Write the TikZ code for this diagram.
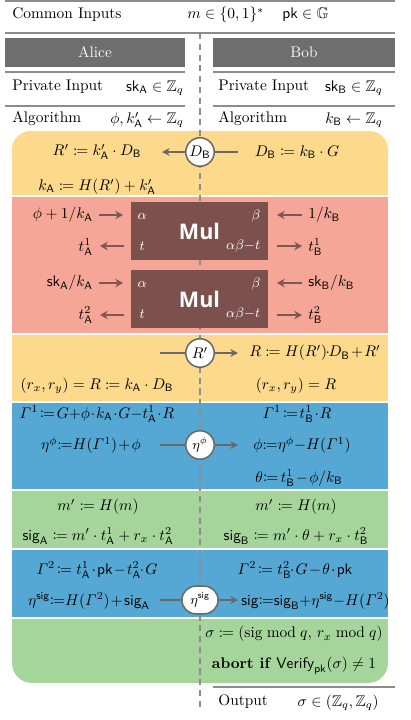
\documentclass[tikz,border=0pt]{standalone}
\usepackage{amsmath,amssymb,mathtools}
\usepackage{fontspec}
\newfontfamily\mulfont{Open Sans}
\usetikzlibrary{arrows.meta,shapes.misc}
\definecolor{yel}{RGB}{253,217,140}
\definecolor{salm}{RGB}{246,166,150}
\definecolor{blu}{RGB}{85,168,212}
\definecolor{grn}{RGB}{166,213,155}
\definecolor{mulc}{RGB}{124,80,76}
\definecolor{hdr}{RGB}{110,110,110}
\definecolor{arr}{RGB}{105,105,105}
\definecolor{arrm}{RGB}{125,88,84}
\definecolor{rule}{RGB}{140,140,140}
\newcommand{\myA}{\mathsf{A}}
\newcommand{\myB}{\mathsf{B}}
\newcommand{\mysig}{\mathsf{sig}}
\newcommand{\mypk}{\mathsf{pk}}
\newcommand{\mysk}{\mathsf{sk}}
\begin{document}
\begin{tikzpicture}[x=0.65pt,y=-0.65pt,
  txt/.style={inner sep=0pt},
  tight/.style={execute at begin node={\medmuskip=1.5mu\thickmuskip=3mu}},
  tightbin/.style={execute at begin node={\medmuskip=1.5mu}},
  hrule/.style={draw=rule,line width=0.8pt},
  msgc/.style={circle,draw=arr,fill=white,line width=1pt,minimum size=18.5pt,inner sep=0pt},
  msge/.style={rounded rectangle,draw=arr,fill=white,line width=1pt,minimum width=23.5pt,minimum height=18pt,inner sep=0pt},
  conn/.style={draw=arr,line width=1.1pt},
  carrow/.style={conn,-{Stealth[length=5pt,width=5pt]}},
  marrow/.style={draw=arrm,line width=1.2pt,-{Stealth[length=5pt,width=5.5pt]}},
  mulbox/.style={fill=mulc,minimum width=89pt,minimum height=37.7pt,inner sep=0pt},
  mullbl/.style={inner sep=0pt,text=white,font=\small},
  dashline/.style={draw=rule,line width=1pt,dash pattern=on 4pt off 3pt}]
\useasboundingbox (0,0) rectangle (411,720);
% ---------- header ----------
\draw[hrule] (5,1) -- (395,1);
\node[txt,anchor=west] (ci) at (12,15) {Common Inputs};
\node[txt,anchor=west] (cm) at (187,15) {$m\in\{0,1\}^*$};
\node[txt,anchor=west] (cpk) at (282,15) {$\mypk\in\mathbb{G}$};
\draw[hrule] (5,33) -- (395,33);
\fill[hdr] (5,38) rectangle (185,67);
\fill[hdr] (213,38) rectangle (395,67);
\node[txt,text=white!97!black] (alice) at (95,52.5) {Alice};
\node[txt,text=white!97!black] (bob) at (304,52.5) {Bob};
\draw[hrule] (5,72) -- (185,72);
\draw[hrule] (213,72) -- (395,72);
\node[txt,anchor=west] (piA) at (12,87) {Private Input};
\node[txt,anchor=east] (skA) at (184,88) {$\mysk_{\myA}\in\mathbb{Z}_q$};
\node[txt,anchor=west] (piB) at (218,87) {Private Input};
\node[txt,anchor=east] (skB) at (383,88) {$\mysk_{\myB}\in\mathbb{Z}_q$};
\draw[hrule] (5,106) -- (185,106);
\draw[hrule] (213,106) -- (395,106);
\node[txt,anchor=west] (alA) at (12,119) {Algorithm};
\node[txt,anchor=east] (rA) at (184,120) {$\phi,k'_{\myA}\leftarrow\mathbb{Z}_q$};
\node[txt,anchor=west] (alB) at (218,119) {Algorithm};
\node[txt,anchor=east] (rB) at (383,120) {$k_{\myB}\leftarrow\mathbb{Z}_q$};
% ---------- coloured bands ----------
\fill[yel,rounded corners=12pt] (12,131) rectangle (388,175);
\fill[yel] (12,160) rectangle (388,195);
\fill[salm] (12,196.5) rectangle (388,333);
\fill[yel] (12,334.5) rectangle (388,401);
\fill[blu] (12,402.5) rectangle (388,489);
\fill[grn] (12,490.5) rectangle (388,548);
\fill[blu] (12,549.5) rectangle (388,617);
\fill[grn] (12,618.5) rectangle (388,650);
\fill[grn,rounded corners=13pt] (12,630) rectangle (388,683);
% ---------- dashed separator ----------
\coordinate (dtop) at (200,33);
\coordinate (dbot) at (200,708);
\draw[dashline] (dtop) -- (dbot);
% ---------- band 1 ----------
\node[msgc] (DB) at (200,152) {$D_{\myB}$};
\coordinate (db-r) at (238,152);
\coordinate (db-l) at (162,152);
\draw[conn] (db-r) -- (DB);
\draw[carrow] (DB) -- (db-l);
\node[txt] (t1) at (97,152) {$R'\coloneqq k'_{\myA}\cdot D_{\myB}$};
\node[txt] (t2) at (297,152) {$D_{\myB}\coloneqq k_{\myB}\cdot G$};
\node[txt] (t3) at (97,187) {$k_{\myA}\coloneqq H(R')+k'_{\myA}$};
% ---------- band 2 (Mul) ----------
\node[mulbox] (mul1) at (199.5,231) {};
\node[mulbox] (mul2) at (199.5,299) {};
\foreach \b in {mul1,mul2}{
  \node[txt,text=white,font=\mulfont\bfseries\fontsize{14}{16}\selectfont] at (\b) {Mul};
  \node[mullbl] at ([xshift=7.5pt,yshift=-9.5pt]\b.north west) {$\alpha$};
  \node[mullbl] at ([xshift=-8pt,yshift=-9.5pt]\b.north east) {$\beta$};
  \node[mullbl] at ([xshift=7.5pt,yshift=9pt]\b.south west) {$t$};
  \node[mullbl,anchor=east] at ([xshift=-5pt,yshift=9pt]\b.south east) {$\alpha\beta{-}t$};
}
\node[txt,anchor=east] (in1A) at (93,215) {$\phi+1/k_{\myA}$};
\node[txt,anchor=east] (o1A) at (93,247) {$t^1_{\myA}$};
\node[txt,anchor=west] (in1B) at (308,215) {$1/k_{\myB}$};
\node[txt,anchor=west] (o1B) at (308,247) {$t^1_{\myB}$};
\node[txt,anchor=east] (in2A) at (93,283) {$\mysk_{\myA}/k_{\myA}$};
\node[txt,anchor=east] (o2A) at (93,315) {$t^2_{\myA}$};
\node[txt,anchor=west] (in2B) at (308,283) {$\mysk_{\myB}/k_{\myB}$};
\node[txt,anchor=west] (o2B) at (308,315) {$t^2_{\myB}$};
\foreach \y in {215,283}{
  \draw[marrow] (99,\y) -- (123,\y);
  \draw[marrow] (302,\y) -- (277,\y);
}
\foreach \y in {246,315}{
  \draw[marrow] (124,\y) -- (100,\y);
  \draw[marrow] (277,\y) -- (302,\y);
}
% ---------- band 3 ----------
\node[msgc] (Rp) at (200,353) {$R'$};
\coordinate (rp-l) at (160,353);
\coordinate (rp-r) at (238,353);
\draw[conn] (rp-l) -- (Rp);
\draw[carrow] (Rp) -- (rp-r);
\node[txt,tightbin,anchor=west] (t4) at (249,353) {$R\coloneqq H(R')\!\cdot\! D_{\myB}+R'$};
\node[txt] (t5) at (97,386) {$(r_x,r_y)=R\coloneqq k_{\myA}\cdot D_{\myB}$};
\node[txt] (t6) at (296,386) {$(r_x,r_y)=R$};
% ---------- band 4 ----------
\node[txt] (g1A) at (97,414) {$\varGamma^1\!\coloneqq\! G{+}\phi\!\cdot\! k_{\myA}\!\cdot\! G{-}t^1_{\myA}\!\cdot\! R$};
\node[txt] (g1B) at (297,414) {$\varGamma^1\!\coloneqq\! t^1_{\myB}\!\cdot\! R$};
\node[msgc] (eta) at (200,445) {\small$\eta^\phi$};
\coordinate (eta-l) at (160,445);
\coordinate (eta-r) at (238,445);
\draw[conn] (eta-l) -- (eta);
\draw[carrow] (eta) -- (eta-r);
\node[txt,tight] (e1) at (91,445) {$\eta^\phi\!\coloneqq\! H(\varGamma^1)+\phi$};
\node[txt,tight] (e2) at (302,445) {$\phi\!\coloneqq\!\eta^\phi{-}H(\varGamma^1)$};
\node[txt,tight] (e3) at (299,478) {$\theta\!\coloneqq t^1_{\myB}-\phi/k_{\myB}$};
% ---------- band 5 ----------
\node[txt] (m1) at (98,507) {$m'\coloneqq H(m)$};
\node[txt] (m2) at (296,507) {$m'\coloneqq H(m)$};
\node[txt] (s1) at (98,536) {$\mysig_{\myA}\coloneqq m'\cdot t^1_{\myA}+r_x\cdot t^2_{\myA}$};
\node[txt] (s2) at (296,536) {$\mysig_{\myB}\coloneqq m'\cdot\theta+r_x\cdot t^2_{\myB}$};
% ---------- band 6 ----------
\node[txt,tightbin] (g2A) at (97,570) {$\varGamma^2\!\coloneqq t^1_{\myA}\cdot\mypk-t^2_{\myA}\!\cdot G$};
\node[txt,tightbin] (g2B) at (295,570) {$\varGamma^2\!\coloneqq t^2_{\myB}\!\cdot G-\theta\cdot\mypk$};
\node[msge] (esig) at (200,600) {\small$\eta^{\mysig}$};
\coordinate (es-l) at (160,600);
\coordinate (es-r) at (238,600);
\draw[conn] (es-l) -- (esig);
\draw[carrow] (esig) -- (es-r);
\node[txt,tight] (h1) at (89,601) {$\eta^{\mysig}\!\coloneqq\! H(\varGamma^2)+\mysig_{\myA}$};
\node[txt,tight,anchor=west] (h2) at (241,601) {$\mysig\!\coloneqq\!\mysig_{\myB}{+}\eta^{\mysig}{-}H(\varGamma^2)$};
% ---------- band 7 ----------
\node[txt] (sg) at (294,634) {$\sigma\coloneqq(\mathrm{sig}\bmod q,\,r_x\bmod q)$};
\node[txt] (ab) at (294,666) {\textbf{abort if} $\mathsf{Verify}_{\mypk}(\sigma)\neq1$};
% ---------- output ----------
\draw[hrule] (213,687) -- (395,687);
\node[txt,anchor=west] (out) at (218,702) {Output};
\node[txt,anchor=east] (outv) at (379,703) {$\sigma\in(\mathbb{Z}_q,\mathbb{Z}_q)$};
\end{tikzpicture}
\end{document}
